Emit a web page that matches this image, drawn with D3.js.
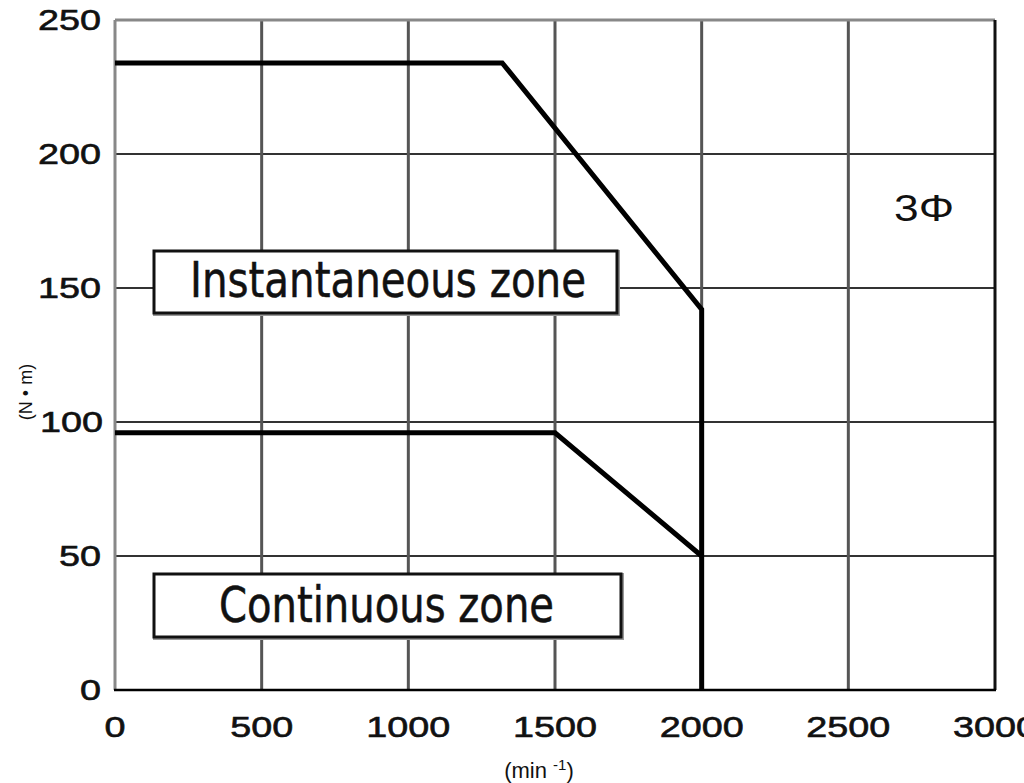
<!DOCTYPE html>
<html>
<head>
<meta charset="utf-8">
<script src="https://cdn.jsdelivr.net/npm/d3@7"></script>
<style>
  body { margin: 0; background: #fff; }
  svg { display: block; }
</style>
</head>
<body>
<div id="chart"></div>
<script>
// speed (min-1) vs torque (N·m)
const speedTicks = [0, 500, 1000, 1500, 2000, 2500, 3000];
const torqueTicks = [0, 50, 100, 150, 200, 250];

const instSpeed = [0, 1320, 2000, 2000];
const instTorque = [234, 234, 142, 0];

const contSpeed = [0, 1500, 2000];
const contTorque = [96, 96, 50];

const zoneLabels = ["Instantaneous zone", "Continuous zone"];

let width = 1024, height = 783;
let svg = d3.select("#chart").append("svg")
    .attr("width", width)
    .attr("height", height);

let x = d3.scaleLinear().domain([0, 3000]).range([115, 995]);
let y = d3.scaleLinear().domain([0, 250]).range([690, 20]);

// grid
svg.append("g")
    .selectAll("line")
    .data(torqueTicks.filter(d => d > 0 && d < 250))
    .join("line")
    .attr("x1", x(0)).attr("x2", x(3000))
    .attr("y1", d => y(d)).attr("y2", d => y(d))
    .attr("stroke", "#333")
    .attr("stroke-width", 2);

svg.append("g")
    .selectAll("line")
    .data(speedTicks.filter(d => d > 0 && d < 3000))
    .join("line")
    .attr("x1", d => x(d)).attr("x2", d => x(d))
    .attr("y1", y(250)).attr("y2", y(0))
    .attr("stroke", "#555")
    .attr("stroke-width", 3);

// frame
svg.append("line").attr("x1", x(0)).attr("x2", x(3000)).attr("y1", y(250)).attr("y2", y(250))
    .attr("stroke", "#888").attr("stroke-width", 3);
svg.append("line").attr("x1", x(0)).attr("x2", x(0)).attr("y1", y(250)).attr("y2", y(0))
    .attr("stroke", "#888").attr("stroke-width", 3);
svg.append("line").attr("x1", x(3000)).attr("x2", x(3000)).attr("y1", y(250)).attr("y2", y(0))
    .attr("stroke", "#111").attr("stroke-width", 3);
svg.append("line").attr("x1", x(0) - 1).attr("x2", x(3000) + 1).attr("y1", y(0)).attr("y2", y(0))
    .attr("stroke", "#000").attr("stroke-width", 2.5);

// tick labels
svg.append("g")
    .selectAll("text")
    .data(speedTicks)
    .join("text")
    .attr("x", d => x(d))
    .attr("y", 737)
    .attr("text-anchor", "middle")
    .attr("font-family", "Liberation Sans, Arial, sans-serif")
    .attr("font-size", 30)
    .attr("textLength", d => String(d).length * 21)
    .attr("lengthAdjust", "spacingAndGlyphs")
    .attr("fill", "#111")
    .attr("stroke", "#111")
    .attr("stroke-width", 0.6)
    .text(d => d);

svg.append("g")
    .selectAll("text")
    .data(torqueTicks)
    .join("text")
    .attr("x", d => d === 100 ? 103 : 101)
    .attr("y", d => y(d) + 10)
    .attr("text-anchor", "end")
    .attr("font-family", "Liberation Sans, Arial, sans-serif")
    .attr("font-size", 30)
    .attr("textLength", d => String(d).length * 21)
    .attr("lengthAdjust", "spacingAndGlyphs")
    .attr("fill", "#111")
    .attr("stroke", "#111")
    .attr("stroke-width", 0.6)
    .text(d => d);

// axis titles
svg.append("text")
    .attr("transform", "translate(32,392) rotate(-90)")
    .attr("text-anchor", "middle")
    .attr("font-family", "Liberation Sans, Arial, sans-serif")
    .attr("font-size", 18)
    .attr("fill", "#111")
    .text("(N • m)");

let xt = svg.append("text")
    .attr("x", 539)
    .attr("y", 778)
    .attr("text-anchor", "middle")
    .attr("font-family", "Liberation Sans, Arial, sans-serif")
    .attr("font-size", 22)
    .attr("fill", "#111");
xt.append("tspan").text("(min ");
xt.append("tspan").attr("font-size", 15).attr("dy", -8).text("-1");
xt.append("tspan").attr("dy", 8).text(")");

svg.append("text")
    .attr("x", 924)
    .attr("y", 221)
    .attr("text-anchor", "middle")
    .attr("font-family", "Liberation Sans, Arial, sans-serif")
    .attr("font-size", 36)
    .attr("textLength", 60)
    .attr("lengthAdjust", "spacingAndGlyphs")
    .attr("fill", "#111")
    .text("3Φ");

// curves
let line = d3.line().x(d => x(d[0])).y(d => y(d[1]));

svg.append("path")
    .datum(d3.zip(instSpeed, instTorque))
    .attr("fill", "none")
    .attr("stroke", "#000")
    .attr("stroke-width", 5)
    .attr("stroke-linejoin", "miter")
    .attr("d", line);

svg.append("path")
    .datum(d3.zip(contSpeed, contTorque))
    .attr("fill", "none")
    .attr("stroke", "#000")
    .attr("stroke-width", 5)
    .attr("d", line);

// zone labels
let boxes = [
    { label: zoneLabels[0], x0: 154, x1: 617, y0: 251, y1: 313, tx: 190, tw: 396, ty: 297 },
    { label: zoneLabels[1], x0: 154, x1: 621, y0: 574, y1: 637, tx: 219, tw: 335, ty: 622 }
];

let bg = svg.append("g").selectAll("g").data(boxes).join("g");
bg.append("rect")
    .attr("x", d => d.x0 + 1).attr("y", d => d.y0 + 1)
    .attr("width", d => d.x1 - d.x0).attr("height", d => d.y1 - d.y0)
    .attr("fill", "none").attr("stroke", "#999").attr("stroke-width", 4);
bg.append("rect")
    .attr("x", d => d.x0).attr("y", d => d.y0)
    .attr("width", d => d.x1 - d.x0).attr("height", d => d.y1 - d.y0)
    .attr("fill", "#fff").attr("stroke", "#111").attr("stroke-width", 3);
bg.append("text")
    .attr("x", d => d.tx).attr("y", d => d.ty)
    .attr("font-family", "DejaVu Sans Condensed, DejaVu Sans, sans-serif")
    .attr("font-size", 49)
    .attr("textLength", d => d.tw)
    .attr("lengthAdjust", "spacingAndGlyphs")
    .attr("fill", "#111")
    .attr("stroke", "#111")
    .attr("stroke-width", 0.5)
    .text(d => d.label);
</script>
</body>
</html>
